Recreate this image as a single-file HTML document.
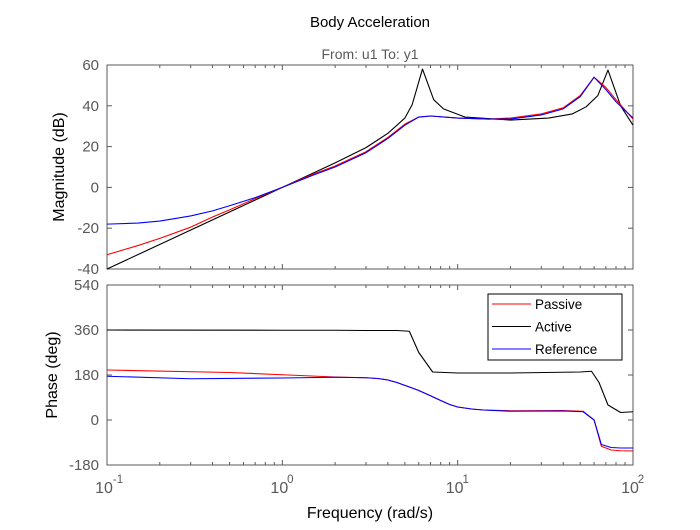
<!DOCTYPE html>
<html><head><meta charset="utf-8"><style>
body{margin:0;background:#fff;}
svg text{font-family:"Liberation Sans",sans-serif;}
</style></head><body>
<svg id="chart" width="700" height="525" viewBox="0 0 700 525" xmlns="http://www.w3.org/2000/svg">
<rect width="700" height="525" fill="#fff"/>
<text x="370" y="27" font-size="15" text-anchor="middle" fill="#000">Body Acceleration</text>
<text x="370" y="59" font-size="14" text-anchor="middle" fill="#595959">From: u1  To: y1</text>
<text transform="translate(64,167) rotate(-90)" font-size="16" text-anchor="middle" fill="#000">Magnitude (dB)</text>
<text transform="translate(57,375) rotate(-90)" font-size="16" text-anchor="middle" fill="#000">Phase (deg)</text>
<text x="370" y="518" font-size="16" text-anchor="middle" fill="#000">Frequency  (rad/s)</text>
<g id="g"></g>
</svg>
<script>
const magTicks=[60,40,20,0,-20,-40];
const phaseTicks=[540,360,180,0,-180];
const decades=[-1,0,1,2];
const seriesNames=['Passive','Active','Reference'];
const magFreqPassive=[0.1,0.15,0.2,0.3,0.4,0.5,0.7,1,1.5,2,3,4,5,6,7,10,15,20,30,40,50,60,70,80,100];
const magPassive=[-33,-28.5,-25,-19.5,-14.5,-11,-5.5,0,6.5,10.5,17.5,24.5,31,34.5,35,34,33.5,34,36,39,45,54,49,43,33.5];
const magFreqActive=[0.1,1,2,3,4,5,5.5,6.3,7.3,8.3,11,20,33,45,54,63,72,85,100];
const magActive=[-40,0,12,19.5,26.5,34,40.5,58,43,38.5,34.5,33,34,36,39.5,45,57.5,40,30.5];
const magFreqRef=[0.1,0.15,0.2,0.3,0.4,0.5,0.7,1,1.5,2,3,4,5,6,7,10,15,20,30,40,50,60,70,80,100];
const magRef=[-18,-17.5,-16.5,-14,-11.5,-9,-5,0,6,10,17,24,30.5,34.5,35,34,33.5,33.5,35.5,38.5,44.5,54,48,42,34];
const phFreqPassive=[0.1,0.5,1,2,3,3.5,4,4.5,5.5,6,7,8,9,10,12,14,20,40,52,60,66,75,85,100];
const phPassive=[200,190,181,172,169,166,160,150,128,118,97,78,62,52,44,40,37,38,35,0,-105,-120,-123,-124];
const phFreqActive=[0.1,1,2,3,4.5,5.3,6,7.2,10,20,50,58,64,72,85,100];
const phActive=[360,359,359,358,358,355,270,192,188,188,192,195,150,60,30,33];
const phFreqRef=[0.1,0.3,1,2,3,3.5,4,4.5,5.5,6,7,8,9,10,12,14,20,40,52,60,66,75,85,100];
const phRef=[175,165,168,171,169,166,160,150,128,118,97,78,62,52,44,40,35,36,33,0,-98,-110,-112,-112];

const L=107,R=633;
const X=w=>L+(Math.log10(w)+1)/3*(R-L);
const magTop=65,magBot=269,phTop=285,phBot=465;
const YM=v=>magTop+(60-v)/100*(magBot-magTop);
const YP=v=>phTop+(540-v)/720*(phBot-phTop);
const NS='http://www.w3.org/2000/svg';
const g=document.getElementById('g');
function mk(t,a){const e=document.createElementNS(NS,t);for(const k in a)e.setAttribute(k,a[k]);g.appendChild(e);return e;}
function line(x1,y1,x2,y2,c,w){return mk('line',{x1,y1,x2,y2,stroke:c,'stroke-width':w||1});}
function axes(top,bot,ticks,Y,nm){
  const r=mk('rect',{x:L,y:top,width:R-L,height:bot-top,fill:'none',stroke:'#5a5a5a','stroke-width':1});
  
  
  ticks.forEach(t=>{const y=Y(t);line(L,y,L+5,y,'#5a5a5a');line(R,y,R-5,y,'#5a5a5a');
    const tx=mk('text',{x:L-8,y:y+5,'font-size':15,'text-anchor':'end',fill:'#595959'});tx.textContent=t;
    
    });
  for(let d=-1;d<2;d++)for(let k=1;k<10;k++){const x=X(k*Math.pow(10,d));const len=k==1?5:3;
    line(x,top,x,top+len,'#5a5a5a');line(x,bot,x,bot-len,'#5a5a5a');}
}
axes(magTop,magBot,magTicks,YM,'magnitude');
axes(phTop,phBot,phaseTicks,YP,'phase');
decades.forEach(d=>{const x=X(Math.pow(10,d));
  const t=mk('text',{x:x-3,y:493,'font-size':16,'text-anchor':'middle',fill:'#595959'});
  t.textContent='10';
  
  
  const s=mk('text',{x:x+8+(d<0?3:0),y:483,'font-size':11.5,'text-anchor':'middle',fill:'#595959'});
  s.textContent=String(d);
  
  });
function series(f,v,Y,c,nm){const p=mk('polyline',{points:f.map((w,i)=>X(w)+','+Y(v[i])).join(' '),fill:'none',stroke:c,'stroke-width':1.1,'stroke-linejoin':'round'});
  
  }
series(magFreqActive,magActive,YM,'#000','magnitude-active-line');
series(magFreqPassive,magPassive,YM,'#f00','magnitude-passive-line');
series(magFreqRef,magRef,YM,'#00f','magnitude-reference-line');
series(phFreqActive,phActive,YP,'#000','phase-active-line');
series(phFreqPassive,phPassive,YP,'#f00','phase-passive-line');
series(phFreqRef,phRef,YP,'#00f','phase-reference-line');
const lb=mk('rect',{x:488,y:294,width:134,height:66,fill:'#fff',stroke:'#000','stroke-width':1});


const cols=['#f00','#000','#00f'];
seriesNames.forEach((n,i)=>{const y=304+i*22.5;line(492,y,531,y,cols[i],1.1);
  const t=mk('text',{x:535,y:y+5,'font-size':13.5,fill:'#000'});t.textContent=n;
  
  });
</script>
</body></html>
